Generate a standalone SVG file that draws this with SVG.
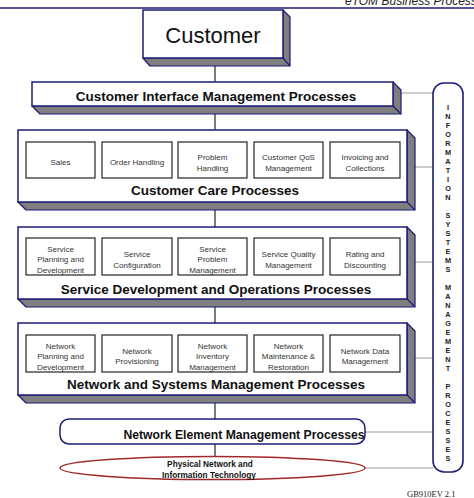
<svg xmlns="http://www.w3.org/2000/svg" width="474" height="498" viewBox="0 0 474 498">
<style>
.face{fill:#fff;stroke:#1c1c78;stroke-width:1.5}
.ext{fill:#7f7f7f;stroke:#1c1c78;stroke-width:1.2;stroke-linejoin:round}
.inner{fill:#fff;stroke:#111;stroke-width:1.1}
.t{font-family:"Liberation Sans",Arial,sans-serif;fill:#333;font-size:8px;text-anchor:middle}
.title{font-family:"Liberation Sans",Arial,sans-serif;font-weight:bold;fill:#111;font-size:13.5px;text-anchor:middle}
.vline{stroke:#222;stroke-width:1.2}
.hline{stroke:#9a9a9a;stroke-width:1}
.ism{font-family:"Liberation Sans",Arial,sans-serif;font-weight:bold;fill:#222;font-size:7.3px;text-anchor:middle}
</style>
<rect width="474" height="498" fill="#fff"/>
<text x="345" y="5" font-family="Liberation Sans,Arial,sans-serif" font-style="italic" font-size="12" fill="#222">eTOM Business Processes</text>
<line x1="0" y1="8" x2="474" y2="8" stroke="#1c1c78" stroke-width="1.5"/>

<g id="connectors">
<line class="vline" x1="215" y1="66" x2="215" y2="82"/>
<line class="vline" x1="215" y1="114" x2="215" y2="130"/>
<line class="vline" x1="215" y1="210" x2="215" y2="227"/>
<line class="vline" x1="215" y1="307" x2="215" y2="323"/>
<line class="vline" x1="215" y1="403" x2="215" y2="419"/>
<line class="vline" x1="215" y1="444" x2="215" y2="457"/>
<line class="hline" x1="401" y1="93" x2="433" y2="93"/>
<line class="hline" x1="415" y1="167" x2="433" y2="167"/>
<line class="hline" x1="415" y1="262" x2="433" y2="262"/>
<line class="hline" x1="415" y1="358" x2="433" y2="358"/>
<line class="hline" x1="365" y1="432" x2="433" y2="432"/>
<line class="hline" x1="365" y1="468" x2="433" y2="468"/>
</g>

<g id="customer">
<polygon class="ext" points="283,10 290,17 290,66 150,66 143,58 283,58"/>
<line class="ext" x1="283" y1="58" x2="290" y2="66"/>
<rect class="face" x="143" y="10" width="140" height="48"/>
<text x="213" y="43" font-family="Liberation Sans,Arial,sans-serif" font-size="22" fill="#111" text-anchor="middle">Customer</text>
</g>

<g id="cim">
<polygon class="ext" points="393,82 401,90 401,114 40,114 32,106 393,106"/>
<line class="ext" x1="393" y1="106" x2="401" y2="114"/>
<rect class="face" x="32" y="82" width="361" height="24"/>
<text class="title" x="216" y="101">Customer Interface Management Processes</text>
</g>

<g id="customer-care">
<polygon class="ext" points="407,130 415,138 415,210 26,210 18,202 407,202"/>
<line class="ext" x1="407" y1="202" x2="415" y2="210"/>
<rect class="face" x="18" y="130" width="389" height="72"/>
<rect class="inner" x="26" y="142" width="69" height="36"/>
<rect class="inner" x="102" y="142" width="70" height="36"/>
<rect class="inner" x="178" y="142" width="69" height="36"/>
<rect class="inner" x="254" y="142" width="69" height="36"/>
<rect class="inner" x="330" y="142" width="70" height="36"/>
<text class="t" x="60.5" y="165">Sales</text>
<text class="t" x="137" y="165">Order Handling</text>
<text class="t" x="212.5" y="160">Problem</text>
<text class="t" x="212.5" y="170.5">Handling</text>
<text class="t" x="288.5" y="160">Customer QoS</text>
<text class="t" x="288.5" y="170.5">Management</text>
<text class="t" x="365" y="160">Invoicing and</text>
<text class="t" x="365" y="170.5">Collections</text>
<text class="title" x="215" y="195">Customer Care Processes</text>
</g>

<g id="service">
<polygon class="ext" points="407,227 415,235 415,307 26,307 18,299 407,299"/>
<line class="ext" x1="407" y1="299" x2="415" y2="307"/>
<rect class="face" x="18" y="227" width="389" height="72"/>
<rect class="inner" x="26" y="238" width="69" height="37"/>
<rect class="inner" x="102" y="238" width="70" height="37"/>
<rect class="inner" x="178" y="238" width="69" height="37"/>
<rect class="inner" x="254" y="238" width="69" height="37"/>
<rect class="inner" x="330" y="238" width="70" height="37"/>
<text class="t" x="60.5" y="251.5">Service</text>
<text class="t" x="60.5" y="262">Planning and</text>
<text class="t" x="60.5" y="272.5">Development</text>
<text class="t" x="137" y="257">Service</text>
<text class="t" x="137" y="267.5">Configuration</text>
<text class="t" x="212.5" y="251.5">Service</text>
<text class="t" x="212.5" y="262">Problem</text>
<text class="t" x="212.5" y="272.5">Management</text>
<text class="t" x="288.5" y="257">Service Quality</text>
<text class="t" x="288.5" y="267.5">Management</text>
<text class="t" x="365" y="257">Rating and</text>
<text class="t" x="365" y="267.5">Discounting</text>
<text class="title" x="216" y="294">Service Development and Operations Processes</text>
</g>

<g id="network">
<polygon class="ext" points="407,323 415,331 415,403 26,403 18,395 407,395"/>
<line class="ext" x1="407" y1="395" x2="415" y2="403"/>
<rect class="face" x="18" y="323" width="389" height="72"/>
<rect class="inner" x="26" y="335" width="69" height="37"/>
<rect class="inner" x="102" y="335" width="70" height="37"/>
<rect class="inner" x="178" y="335" width="69" height="37"/>
<rect class="inner" x="254" y="335" width="69" height="37"/>
<rect class="inner" x="330" y="335" width="70" height="37"/>
<text class="t" x="60.5" y="348.5">Network</text>
<text class="t" x="60.5" y="359">Planning and</text>
<text class="t" x="60.5" y="369.5">Development</text>
<text class="t" x="137" y="353.5">Network</text>
<text class="t" x="137" y="364">Provisioning</text>
<text class="t" x="212.5" y="348.5">Network</text>
<text class="t" x="212.5" y="359">Inventory</text>
<text class="t" x="212.5" y="369.5">Management</text>
<text class="t" x="288.5" y="348.5">Network</text>
<text class="t" x="288.5" y="359">Maintenance &amp;</text>
<text class="t" x="288.5" y="369.5">Restoration</text>
<text class="t" x="365" y="353.5">Network Data</text>
<text class="t" x="365" y="364">Management</text>
<text class="title" x="216" y="389">Network and Systems Management Processes</text>
</g>

<g id="nem">
<rect x="60" y="419" width="305" height="25" rx="9" ry="9" fill="#fff" stroke="#1c1c78" stroke-width="1.5"/>
<text class="title" x="244" y="439" style="font-size:12.2px">Network Element Management Processes</text>
</g>

<g id="physical">
<ellipse cx="212.5" cy="468" rx="152.5" ry="11.5" fill="#fff" stroke="#a02828" stroke-width="1.5"/>
<text class="title" x="210" y="467" style="font-size:8.3px">Physical Network and</text>
<text class="title" x="209" y="478" style="font-size:8.3px">Information Technology</text>
</g>

<g id="ism">
<rect x="433" y="83" width="30" height="389" rx="11" ry="11" fill="#fff" stroke="#1c1c78" stroke-width="1.6"/>
<text class="ism" x="448" y="110">I</text>
<text class="ism" x="448" y="119">N</text>
<text class="ism" x="448" y="128">F</text>
<text class="ism" x="448" y="137">O</text>
<text class="ism" x="448" y="146">R</text>
<text class="ism" x="448" y="155">M</text>
<text class="ism" x="448" y="164">A</text>
<text class="ism" x="448" y="173">T</text>
<text class="ism" x="448" y="182">I</text>
<text class="ism" x="448" y="191">O</text>
<text class="ism" x="448" y="200">N</text>
<text class="ism" x="448" y="218">S</text>
<text class="ism" x="448" y="227">Y</text>
<text class="ism" x="448" y="236">S</text>
<text class="ism" x="448" y="245">T</text>
<text class="ism" x="448" y="254">E</text>
<text class="ism" x="448" y="263">M</text>
<text class="ism" x="448" y="272">S</text>
<text class="ism" x="448" y="290">M</text>
<text class="ism" x="448" y="299">A</text>
<text class="ism" x="448" y="308">N</text>
<text class="ism" x="448" y="317">A</text>
<text class="ism" x="448" y="326">G</text>
<text class="ism" x="448" y="335">E</text>
<text class="ism" x="448" y="344">M</text>
<text class="ism" x="448" y="353">E</text>
<text class="ism" x="448" y="362">N</text>
<text class="ism" x="448" y="371">T</text>
<text class="ism" x="448" y="389">P</text>
<text class="ism" x="448" y="398">R</text>
<text class="ism" x="448" y="407">O</text>
<text class="ism" x="448" y="416">C</text>
<text class="ism" x="448" y="425">E</text>
<text class="ism" x="448" y="434">S</text>
<text class="ism" x="448" y="443">S</text>
<text class="ism" x="448" y="452">E</text>
<text class="ism" x="448" y="461">S</text>
</g>

<text x="407" y="497" font-family="Liberation Serif,Times New Roman,serif" font-size="8.5" fill="#222">GB910EV 2.1</text>
</svg>
